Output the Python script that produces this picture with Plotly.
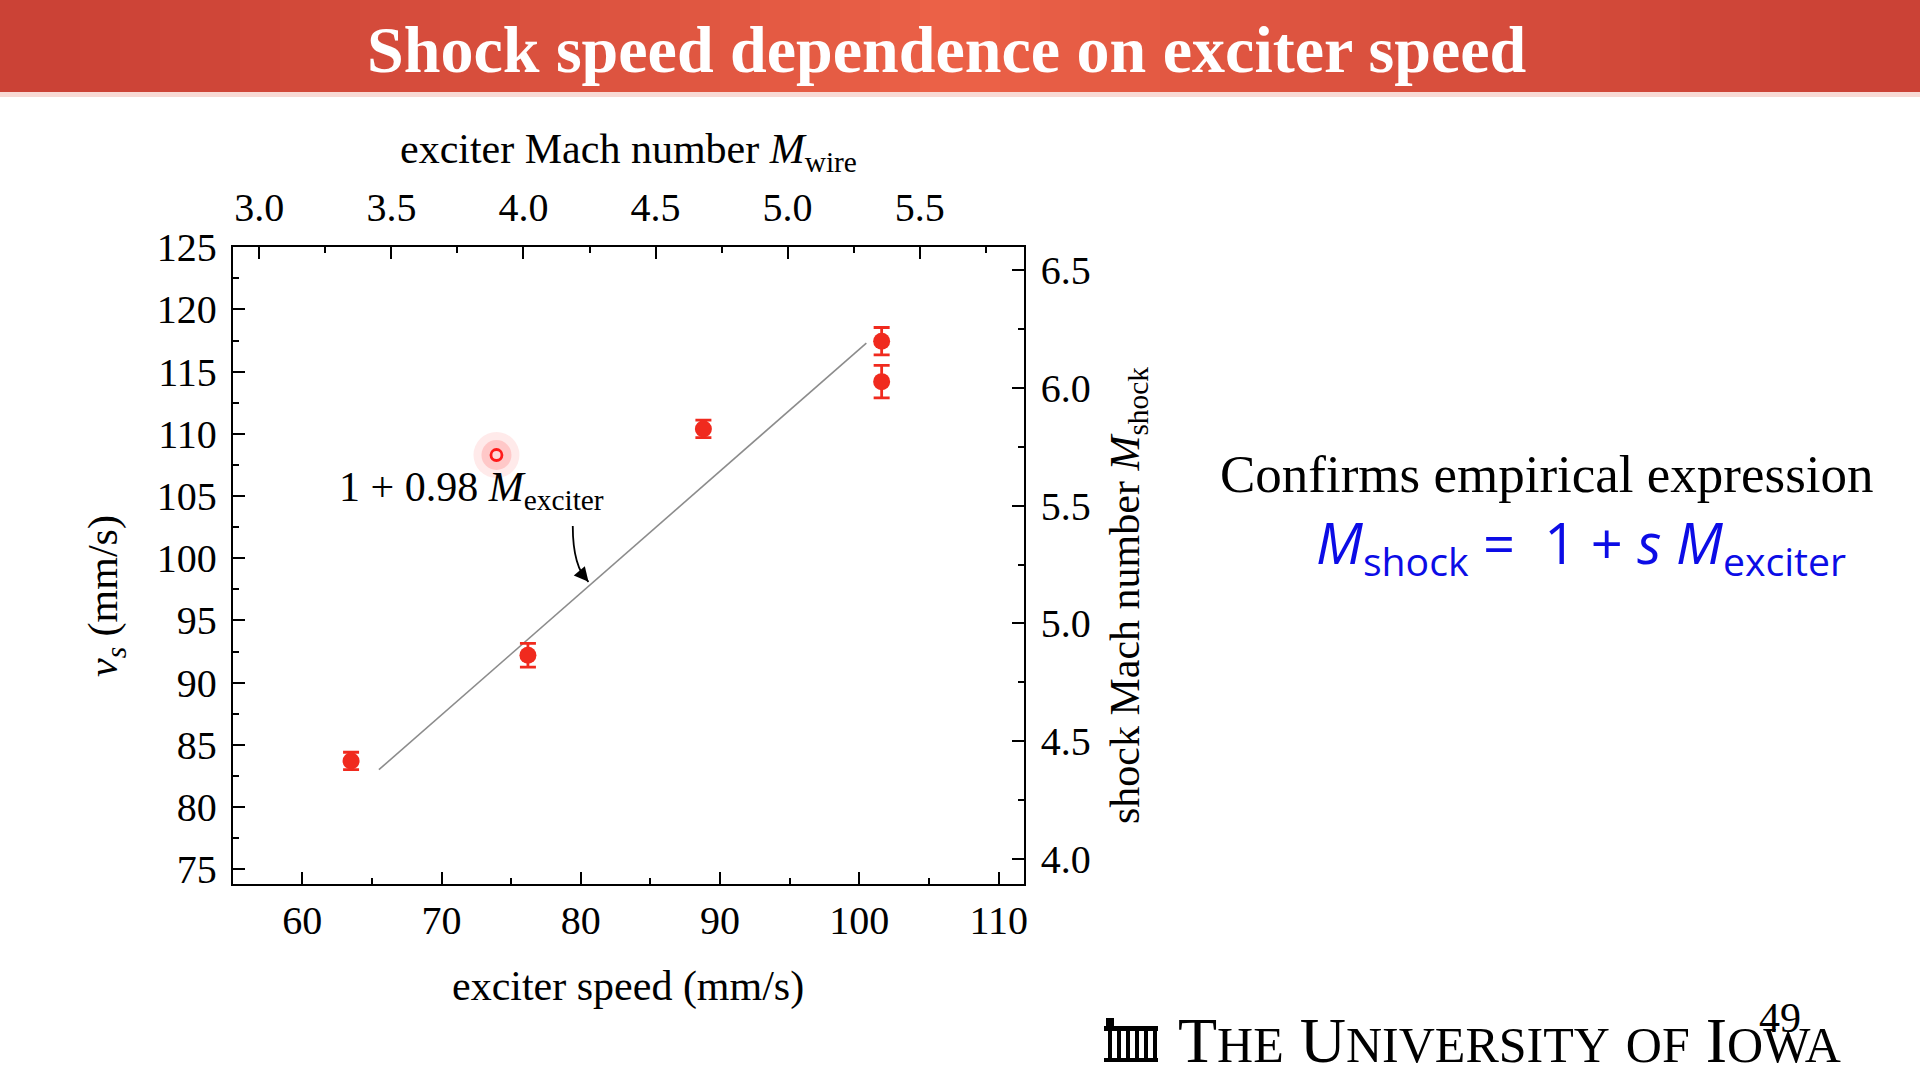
import plotly.graph_objects as go

# ---------------- data ----------------
exciter_speed = [63.5, 76.2, 88.8, 101.6, 101.6]          # mm/s
shock_speed = [83.7, 92.2, 110.4, 117.45, 114.2]          # mm/s
shock_err = [0.7, 0.95, 0.7, 1.1, 1.3]

fit_x = [65.5, 100.5]
fit_y = [83.0, 117.3]

pointer_x = [73.94]
pointer_y = [108.3]

x_range = [55.0, 111.8]
y_range = [73.8, 125.0]
mach_wire_range = [2.899, 5.894]
mach_shock_range = [3.894, 6.596]

x_ticks = [60, 70, 80, 90, 100, 110]
y_ticks = [75, 80, 85, 90, 95, 100, 105, 110, 115, 120, 125]
mach_wire_ticks = [3.0, 3.5, 4.0, 4.5, 5.0, 5.5]
mach_shock_ticks = [4.0, 4.5, 5.0, 5.5, 6.0, 6.5]

arrow_start = (79.42, 102.6)
arrow_ctrl = (79.42, 99.3)
arrow_tip = (80.55, 98.1)

W, H = 1920, 1080
SERIF = "Liberation Serif"
RED = "#f02a1e"

fig = go.Figure()

# fit line
fig.add_trace(go.Scatter(x=fit_x, y=fit_y, mode="lines",
                         line=dict(color="#8c8c8c", width=1.6),
                         hoverinfo="skip", showlegend=False))

# pointer glow (laser pointer in the slide)
fig.add_trace(go.Scatter(x=pointer_x, y=pointer_y, mode="markers",
                         marker=dict(size=46, color="rgba(255,80,80,0.12)", line=dict(width=0)),
                         hoverinfo="skip", showlegend=False))
fig.add_trace(go.Scatter(x=pointer_x, y=pointer_y, mode="markers",
                         marker=dict(size=30, color="rgba(255,80,80,0.22)", line=dict(width=0)),
                         hoverinfo="skip", showlegend=False))
fig.add_trace(go.Scatter(x=pointer_x, y=pointer_y, mode="markers",
                         marker=dict(size=11, color="rgb(255,215,215)",
                                     line=dict(width=2.8, color="#ff1a1a")),
                         hoverinfo="skip", showlegend=False))

# data points
fig.add_trace(go.Scatter(x=exciter_speed, y=shock_speed, mode="markers",
                         marker=dict(size=17, color=RED, line=dict(width=0)),
                         error_y=dict(type="data", array=shock_err, visible=True,
                                      color=RED, thickness=2.8, width=8),
                         showlegend=False))

# dummy trace for secondary axes
fig.add_trace(go.Scatter(x=[4.0], y=[5.0], xaxis="x2", yaxis="y2", mode="markers",
                         marker=dict(opacity=0), hoverinfo="skip", showlegend=False))

# ------------- layout -------------
x0, x1 = 232.7, 1023.7
y0, y1 = 247.3, 884.1
xdom = [x0 / W, x1 / W]
ydom = [1 - y1 / H, 1 - y0 / H]

tickfont = dict(family=SERIF, size=40, color="black")
common = dict(showgrid=False, zeroline=False, showline=True, linecolor="black",
              linewidth=2, ticks="inside", ticklen=12, tickwidth=2, tickcolor="black",
              tickfont=tickfont, automargin=False)

fig.update_layout(
    width=W, height=H, margin=dict(l=0, r=0, t=0, b=0, pad=0, autoexpand=False),
    paper_bgcolor="white", plot_bgcolor="white", showlegend=False,
    xaxis=dict(domain=xdom, range=x_range, tickvals=x_ticks, anchor="y",
               minor=dict(dtick=5, tick0=0, ticks="inside", ticklen=6, tickwidth=2, tickcolor="black"),
               ticklabelstandoff=0, **common),
    xaxis2=dict(domain=xdom, range=mach_wire_range, tickvals=mach_wire_ticks, tickformat=".1f",
                overlaying="x", side="top", anchor="y",
                minor=dict(dtick=0.25, tick0=0, ticks="inside", ticklen=6, tickwidth=2, tickcolor="black"),
                ticklabelstandoff=8, **common),
    yaxis=dict(domain=ydom, range=y_range, tickvals=y_ticks, anchor="x",
               minor=dict(dtick=2.5, tick0=0, ticks="inside", ticklen=6, tickwidth=2, tickcolor="black"),
               ticklabelstandoff=6, **common),
    yaxis2=dict(domain=ydom, range=mach_shock_range, tickvals=mach_shock_ticks, tickformat=".1f",
                overlaying="y", side="right", anchor="x",
                minor=dict(dtick=0.25, tick0=0, ticks="inside", ticklen=6, tickwidth=2, tickcolor="black"),
                ticklabelstandoff=7, **common),
)

shapes = []
# banner gradient strips
n = 48
for i in range(n):
    t = (i + 0.5) / n
    w = 1 - abs(t - 0.5) * 2
    w = w ** 1.3
    r = int(203 + (236 - 203) * w)
    g = int(66 + (98 - 66) * w)
    b = int(54 + (72 - 54) * w)
    shapes.append(dict(type="rect", xref="paper", yref="paper",
                       x0=i / n, x1=min(1.0, (i + 1) / n + 0.001), y0=1 - 92 / H, y1=1,
                       fillcolor=f"rgb({r},{g},{b})", line=dict(width=0), layer="below"))
shapes.append(dict(type="rect", xref="paper", yref="paper", x0=0, x1=1,
                   y0=1 - 97 / H, y1=1 - 92 / H, fillcolor="rgba(235,150,135,0.35)",
                   line=dict(width=0), layer="below"))

# curved arrow
shapes.append(dict(type="path", xref="x", yref="y",
                   path=f"M {arrow_start[0]},{arrow_start[1]} Q {arrow_ctrl[0]},{arrow_ctrl[1]} {arrow_tip[0]},{arrow_tip[1]}",
                   line=dict(color="black", width=1.8)))


# University logo icon (small building)
def px(x, y):
    return x / W, 1 - y / H

bx = [1108, 1117, 1126, 1135, 1144, 1153]
for xx in bx:
    a = px(xx, 1030)
    bb = px(xx + 4, 1059)
    shapes.append(dict(type="rect", xref="paper", yref="paper", x0=a[0], x1=bb[0],
                       y0=bb[1], y1=a[1], fillcolor="black", line=dict(width=0)))
for (ya, yb) in [(1026, 1031), (1058, 1062)]:
    a = px(1104, ya)
    bb = px(1158, yb)
    shapes.append(dict(type="rect", xref="paper", yref="paper", x0=a[0], x1=bb[0],
                       y0=bb[1], y1=a[1], fillcolor="black", line=dict(width=0)))
a = px(1106, 1018)
bb = px(1114, 1027)
shapes.append(dict(type="rect", xref="paper", yref="paper", x0=a[0], x1=bb[0],
                   y0=bb[1], y1=a[1], fillcolor="black", line=dict(width=0)))
fig.update_layout(shapes=shapes)

ann = []
# title
ann.append(dict(text="<b>Shock speed dependence on exciter speed</b>", x=0.4932, y=1 - 49 / H,
                xref="paper", yref="paper", showarrow=False, xanchor="center", yanchor="middle",
                font=dict(family=SERIF, size=66, color="white")))
# axis titles
ann.append(dict(text="exciter speed (mm/s)", x=(x0 + x1) / 2 / W, y=1 - 986 / H,
                xref="paper", yref="paper", showarrow=False, xanchor="center", yanchor="middle",
                font=dict(family=SERIF, size=42, color="black")))
ann.append(dict(text="exciter Mach number <i>M</i><sub>wire</sub>", x=(x0 + x1) / 2 / W, y=1 - 152 / H,
                xref="paper", yref="paper", showarrow=False, xanchor="center", yanchor="middle",
                font=dict(family=SERIF, size=42, color="black")))
ann.append(dict(text="<i>v<sub>s</sub></i> (mm/s)", x=106 / W, y=1 - 596 / H, textangle=-90,
                xref="paper", yref="paper", showarrow=False, xanchor="center", yanchor="middle",
                font=dict(family=SERIF, size=42, color="black")))
ann.append(dict(text="shock Mach number <i>M</i><sub>shock</sub>", x=1128 / W, y=1 - 596 / H, textangle=-90,
                xref="paper", yref="paper", showarrow=False, xanchor="center", yanchor="middle",
                font=dict(family=SERIF, size=42, color="black")))
# fit label
ann.append(dict(text="1 + 0.98 <i>M</i><sub>exciter</sub>", x=337 / W, y=1 - 490 / H,
                xref="paper", yref="paper", showarrow=False, xanchor="left", yanchor="middle",
                font=dict(family=SERIF, size=42, color="black")))
# arrowhead
ann.append(dict(x=arrow_tip[0], y=arrow_tip[1], xref="x", yref="y", text="",
                showarrow=True, arrowhead=2, arrowsize=1.6, arrowwidth=1.8, arrowcolor="black",
                ax=-5, ay=-6, standoff=0))
# right side text
ann.append(dict(text="Confirms empirical expression", x=1547 / W, y=1 - 474 / H,
                xref="paper", yref="paper", showarrow=False, xanchor="center", yanchor="middle",
                font=dict(family=SERIF, size=53, color="black")))
ann.append(dict(text="<i>M</i><sub>shock</sub> =  1 + <i>s</i> <i>M</i><sub>exciter</sub>",
                x=1314 / W, y=1 - 545 / H,
                xref="paper", yref="paper", showarrow=False, xanchor="left", yanchor="middle",
                font=dict(family="Open Sans", size=56, color="#0c0ce6")))
# logo text
small = "font-size:50px"
logo = (f"T<span style='{small}'>HE</span> U<span style='{small}'>NIVERSITY</span> "
        f"<span style='{small}'>OF</span> I<span style='{small}'>OWA</span>")
ann.append(dict(text=logo, x=1176 / W, y=1 - 1040 / H,
                xref="paper", yref="paper", showarrow=False, xanchor="left", yanchor="middle",
                font=dict(family=SERIF, size=64, color="black")))
ann.append(dict(text="49", x=1780 / W, y=1 - 1018 / H,
                xref="paper", yref="paper", showarrow=False, xanchor="center", yanchor="middle",
                font=dict(family=SERIF, size=42, color="black")))
fig.update_layout(annotations=ann)

fig.write_html("out.html")
